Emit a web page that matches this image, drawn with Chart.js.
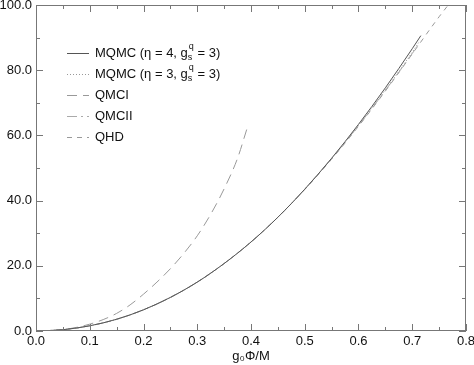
<!DOCTYPE html>
<html>
<head>
<meta charset="utf-8">
<script src="https://cdn.jsdelivr.net/npm/chart.js@4.4.1/dist/chart.umd.min.js"></script>
<style>
  html, body { margin: 0; padding: 0; background: #fff; }
  #wrap { width: 474px; height: 365px; }
</style>
</head>
<body>
<div id="wrap"><canvas id="myGraph" width="474" height="365"></canvas></div>
<script>
(() => {

//----- Data -----//

    var mqmc4X = [0, 0.05, 0.1, 0.15, 0.2, 0.25, 0.3, 0.35, 0.4, 0.45, 0.5, 0.55, 0.6, 0.65, 0.7, 0.716]
    var mqmc4Y = [0, 0.4, 1.6, 3.6, 6.5, 10.3, 15.0, 20.7, 27.3, 34.9, 43.5, 53.0, 63.4, 74.6, 86.6, 90.6]

    var mqmc3X = [0, 0.05, 0.1, 0.15, 0.2, 0.25, 0.3, 0.35, 0.4, 0.45, 0.5, 0.55, 0.6, 0.65, 0.7, 0.714]
    var mqmc3Y = [0, 0.4, 1.6, 3.6, 6.5, 10.3, 15.0, 20.7, 27.3, 34.9, 43.5, 52.9, 63.1, 74.0, 85.5, 89.0]

    var qmc1X = [0, 0.025, 0.05, 0.075, 0.1, 0.125, 0.15, 0.175, 0.2, 0.225, 0.25, 0.275, 0.3, 0.325, 0.35, 0.375, 0.392]
    var qmc1Y = [0, 0.1, 0.4, 1.1, 2.1, 3.5, 5.4, 8.0, 11.3, 15.0, 19.1, 23.8, 29.2, 35.8, 43.6, 53.0, 61.8]

    var qmc2X = [0, 0.05, 0.1, 0.15, 0.2, 0.25, 0.3, 0.35, 0.4, 0.45, 0.5, 0.55, 0.6, 0.65, 0.7, 0.712]
    var qmc2Y = [0, 0.4, 1.6, 3.6, 6.5, 10.3, 15.0, 20.7, 27.3, 34.9, 43.5, 52.9, 63.0, 73.8, 85.1, 88.0]

    var qhdX = [0, 0.05, 0.1, 0.15, 0.2, 0.25, 0.3, 0.35, 0.4, 0.45, 0.5, 0.55, 0.6, 0.65, 0.7, 0.75, 0.767]
    var qhdY = [0, 0.4, 1.6, 3.6, 6.5, 10.3, 15.0, 20.7, 27.3, 34.9, 43.4, 52.7, 62.8, 73.6, 85.0, 96.4, 100]

    var xTicks = [0, 0.1, 0.2, 0.3, 0.4, 0.5, 0.6, 0.7, 0.8]
    var yTicks = [0, 20, 40, 60, 80, 100]

    var legendLabels = [
        ['MQMC (\u03b7 = 4, g', 's', 'q', ' = 3)'],
        ['MQMC (\u03b7 = 3, g', 's', 'q', ' = 3)'],
        ['QMCI'],
        ['QMCII'],
        ['QHD']
    ]

//----- Functions -----//

    function toPoints (xs, ys) {
        var pts = []
        for (var i = 0; i < xs.length; i++) {
            pts.push({ x: xs[i], y: ys[i] })
        }
        return pts
    }

    function makeSet (xs, ys, color, dash) {
        return {
            data: toPoints(xs, ys),
            borderColor: color,
            borderWidth: 1,
            borderDash: dash,
            pointRadius: 0,
            showLine: true,
            fill: false,
            cubicInterpolationMode: 'monotone'
        }
    }

    var FAMILY = '"Liberation Sans", Arial, sans-serif'
    var FONT = '13px ' + FAMILY
    var SMALL = '9px ' + FAMILY
    var AXIS = '#777'

//----- Plugin: box, inward ticks, legend -----//

    var framePlugin = {
        id: 'frame',
        afterDatasetsDraw (chart) {
            var ctx = chart.ctx
            var a = chart.chartArea
            var xs = chart.scales.x
            var ys = chart.scales.y

            ctx.save()
            ctx.strokeStyle = AXIS
            ctx.lineWidth = 1
            ctx.setLineDash([])
            ctx.strokeRect(a.left + 0.5, a.top + 0.5, a.right - a.left - 1, a.bottom - a.top - 1)

            ctx.beginPath()
            for (var v = 0; v <= 0.8001; v += 0.05) {
                var px = Math.round(xs.getPixelForValue(v)) + 0.5
                var len = (Math.round(v * 100) % 10 === 0) ? 7 : 4
                ctx.moveTo(px, a.bottom); ctx.lineTo(px, a.bottom - len)
                ctx.moveTo(px, a.top); ctx.lineTo(px, a.top + len)
            }
            for (var w = 0; w <= 100; w += 10) {
                var py = Math.round(ys.getPixelForValue(w)) + 0.5
                var l2 = (w % 20 === 0) ? 7 : 4
                ctx.moveTo(a.left, py); ctx.lineTo(a.left + l2, py)
                ctx.moveTo(a.right, py); ctx.lineTo(a.right - l2, py)
            }
            ctx.stroke()

            // legend
            var rowY = [53, 74, 95, 116, 137]
            chart.data.datasets.forEach(function (ds, i) {
                var y = rowY[i] + 0.5
                ctx.strokeStyle = ds.borderColor
                ctx.setLineDash(ds.borderDash || [])
                ctx.beginPath()
                ctx.moveTo(67, y); ctx.lineTo(89, y)
                ctx.stroke()
                ctx.setLineDash([])

                var parts = legendLabels[i]
                var x = 95
                ctx.fillStyle = '#111'
                ctx.textBaseline = 'middle'
                ctx.textAlign = 'left'
                ctx.font = FONT
                ctx.fillText(parts[0], x, rowY[i])
                x += ctx.measureText(parts[0]).width
                if (parts.length > 1) {
                    ctx.font = SMALL
                    ctx.fillText(parts[1], x, rowY[i] + 5)
                    ctx.fillText(parts[2], x + 1, rowY[i] - 6)
                    x += Math.max(ctx.measureText(parts[1]).width, ctx.measureText(parts[2]).width + 1)
                    ctx.font = FONT
                    ctx.fillText(parts[3], x, rowY[i])
                }
            })
            ctx.restore()
        }
    }

//----- construct chart -----//

    const data = {
        datasets: [
            makeSet(mqmc4X, mqmc4Y, '#555', []),
            makeSet(mqmc3X, mqmc3Y, '#999', [1, 2]),
            makeSet(qmc1X, qmc1Y, '#999', [10, 6]),
            makeSet(qmc2X, qmc2Y, '#aaa', [10, 4, 2, 4]),
            makeSet(qhdX, qhdY, '#999', [5, 5])
        ]
    }

    const myChart = new Chart(
      document.getElementById('myGraph'), {
        type: 'scatter',
        data: data,
        plugins: [framePlugin],
        options: {
            responsive: false,
            animation: false,
            layout: { padding: { top: 5, right: 8, left: 0, bottom: 0 } },
            plugins: { legend: { display: false }, tooltip: { enabled: false } },
            scales: {
                x: {
                    type: 'linear', min: 0, max: 0.8,
                    afterBuildTicks: s => { s.ticks = xTicks.map(v => ({ value: v })) },
                    afterFit: s => { s.height = 34; s.paddingLeft = 0; s.paddingRight = 0 },
                    grid: { display: false, drawTicks: false },
                    border: { display: false },
                    ticks: {
                        font: { family: FAMILY, size: 13 },
                        color: '#111', padding: 3, maxRotation: 0,
                        callback: v => v.toFixed(1)
                    },
                    title: {
                        display: true, text: 'g\u2080\u03a6/M',
                        font: { family: FAMILY, size: 13 },
                        color: '#111', padding: { top: 0, bottom: 1 }
                    }
                },
                y: {
                    type: 'linear', min: 0, max: 100,
                    afterBuildTicks: s => { s.ticks = yTicks.map(v => ({ value: v })) },
                    afterFit: s => { s.width = 36; s.paddingTop = 0; s.paddingBottom = 0 },
                    grid: { display: false, drawTicks: false },
                    border: { display: false },
                    ticks: {
                        font: { family: FAMILY, size: 13 },
                        color: '#111', padding: 4,
                        callback: v => v.toFixed(1)
                    }
                }
            }
        }
      }
    )

})();
</script>
</body>
</html>
